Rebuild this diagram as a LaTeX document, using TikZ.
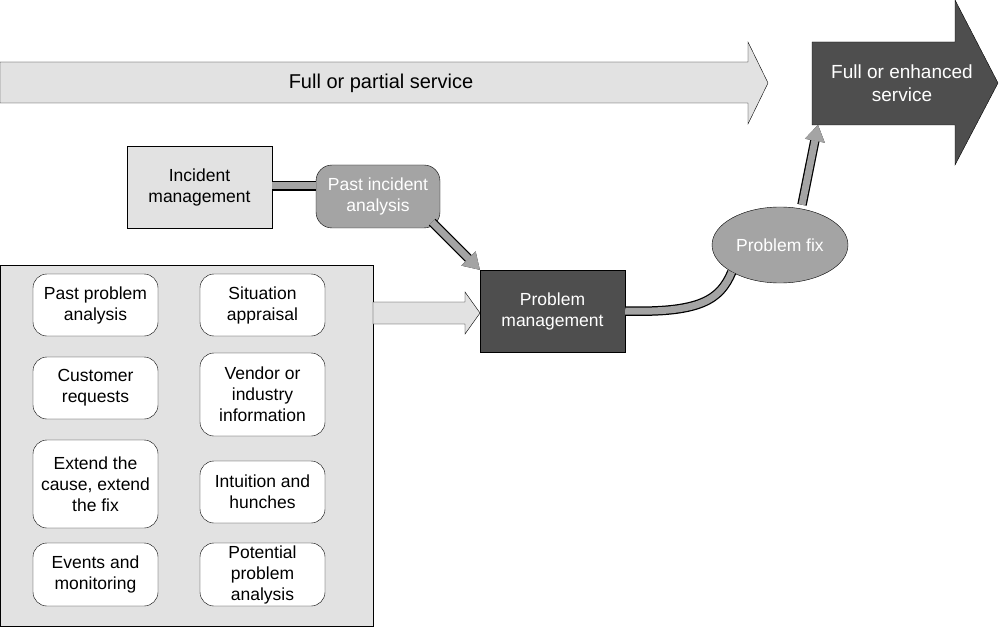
\documentclass[tikz,border=0pt]{standalone}
\usepackage{fontspec}
\setmainfont{Liberation Sans}
\usetikzlibrary{arrows.meta,shapes.geometric,calc}
\definecolor{lg}{HTML}{E2E2E2}
\definecolor{mg}{HTML}{A4A4A4}
\definecolor{dg}{HTML}{4E4E4E}
\begin{document}
\begin{tikzpicture}[x=1pt,y=-1pt,
  txt/.style={font=\fontsize{17.5}{21}\selectfont,align=center},
  sbox/.style={txt,draw=black,fill=white,rounded corners=14pt,minimum width=125pt,inner sep=2pt},
  conn/.style={draw=mg,line width=7pt,preaction={draw=black,line width=9.5pt}},
  tip/.style={-{Triangle[length=16pt,width=20pt,fill=mg,line width=0.8pt]}}]
\useasboundingbox (0,0) rectangle (1000,628);
% big arrows
\draw[fill=lg] (0,62) -- (748,62) -- (748,42) -- (768,83) -- (748,124) -- (748,103) -- (0,103) -- cycle;
\node[txt,font=\fontsize{20}{24}\selectfont] (full) at (381,83) {Full or partial service};
\draw[fill=dg] (812,42) -- (955,42) -- (955,0) -- (998,83) -- (955,165) -- (955,125) -- (812,125) -- cycle;
\node[txt,font=\fontsize{19}{23}\selectfont,text=white] (enh) at (902,83) {Full or enhanced\\service};
\coordinate (enhin) at (818,125);
% incident
\node[txt,draw=black,fill=lg,minimum width=145pt,minimum height=82pt] (inc) at (199.5,187) {Incident\\management};
\node[txt,draw=black,fill=mg,text=white,rounded corners=16pt,minimum width=124pt,minimum height=63pt] (pia) at (378,196.5) {Past incident\\analysis};
% big box
\node[draw=black,fill=lg,minimum width=373pt,minimum height=361pt,inner sep=0] (grp) at (186.5,445.5) {};
\node[txt,draw=black,fill=dg,text=white,minimum width=145pt,minimum height=82pt] (pm) at (552.5,311) {Problem\\management};
\node[txt,draw=black,fill=mg,text=white,ellipse,minimum width=136pt,minimum height=76pt,inner sep=0] (fix) at (780,245) {Problem fix};
% connectors
\draw[conn] (inc.east |- 0,186) -- (pia.west |- 0,186);
\draw[conn,tip] (pia.south east) ++(-8,-6) -- (pm.north west);
\draw[fill=lg] (373,302) -- (465,302) -- (465,292) -- (480,313) -- (465,334) -- (465,324) -- (373,324) -- cycle;
\draw[conn] (pm.east) .. controls (700,313) and (720,300) .. (fix.south west);
\draw[conn,tip] (fix.north) ++(22,-2) -- (enhin);
% small boxes
\node[sbox,minimum height=62pt] (b1) at (95.5,305) {Past problem\\analysis};
\node[sbox,minimum height=62pt] (b2) at (262.5,305) {Situation\\appraisal};
\node[sbox,minimum height=62pt] (b3) at (95.5,388) {Customer\\requests};
\node[sbox,minimum height=83pt] (b4) at (262.5,394.5) {Vendor or\\industry\\information};
\node[sbox,minimum height=88pt] (b5) at (95.5,484) {Extend the\\cause, extend\\the fix};
\node[sbox,minimum height=62pt] (b6) at (262.5,492) {Intuition and\\hunches};
\node[sbox,minimum height=63pt] (b7) at (95.5,574.5) {Events and\\monitoring};
\node[sbox,minimum height=63pt] (b8) at (262.5,574.5) {Potential\\problem\\analysis};
\end{tikzpicture}
\end{document}
